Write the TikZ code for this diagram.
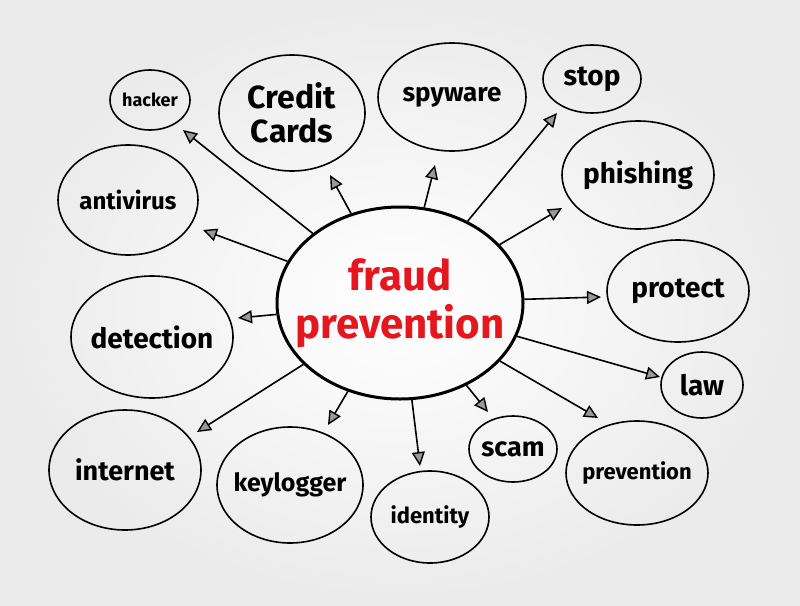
\documentclass[tikz,border=0pt]{standalone}
\usepackage{fontspec}
\setmainfont{Fira Sans}
\usetikzlibrary{shapes.geometric,arrows.meta}
\definecolor{fraudred}{RGB}{228,22,30}
\newcommand{\bubfont}[2]{\fontsize{#1}{#2}\selectfont\bfseries}
\begin{document}
\begin{tikzpicture}[x=1pt,y=-1pt,
  bubble/.style={ellipse,draw,line width=1.6pt,inner sep=0pt},
  hub/.style={ellipse,draw,line width=3pt,inner sep=0pt},
  word/.style={align=center,inner sep=0pt},
  arr/.style={line width=1.6pt,-{Triangle[length=14pt,width=13pt,line width=1.4pt,fill=black!40]}}]
\shade[inner color=white,outer color=black!8] (0,0) rectangle (800,605);
\useasboundingbox (0,0) rectangle (800,605);
% centre
\node[hub,minimum width=246pt,minimum height=192pt,
  label={[word,text=fraudred,font=\bubfont{42}{48}]center:fraud\\prevention}] (hub) at (400,303) {};
% outer bubbles
\node[bubble,minimum width=80pt,minimum height=60pt,label={[word,font=\bubfont{18}{20}]center:hacker}] (hacker) at (150,100) {};
\node[bubble,minimum width=146pt,minimum height=116pt,label={[word,font=\bubfont{32}{34}]center:Credit\\Cards}] (credit) at (292,113) {};
\node[bubble,minimum width=148pt,minimum height=108pt,label={[word,font=\bubfont{26}{28}]center:spyware}] (spyware) at (452,97) {};
\node[bubble,minimum width=98pt,minimum height=68pt,label={[word,font=\bubfont{28}{30}]center:stop}] (stop) at (592,79) {};
\node[bubble,minimum width=152pt,minimum height=108pt,label={[word,font=\bubfont{28}{30}]center:phishing}] (phishing) at (638,175) {};
\node[bubble,minimum width=140pt,minimum height=110pt,label={[word,font=\bubfont{24}{26}]center:antivirus}] (antivirus) at (128,200) {};
\node[bubble,minimum width=142pt,minimum height=102pt,label={[word,font=\bubfont{28}{30}]center:protect}] (protect) at (678,291) {};
\node[bubble,minimum width=162pt,minimum height=122pt,label={[word,font=\bubfont{28}{30}]center:detection}] (detection) at (152,337) {};
\node[bubble,minimum width=82pt,minimum height=66pt,label={[word,font=\bubfont{28}{30}]center:law}] (law) at (702,385) {};
\node[bubble,minimum width=152pt,minimum height=120pt,label={[word,font=\bubfont{27}{29}]center:internet}] (internet) at (125,470) {};
\node[bubble,minimum width=146pt,minimum height=116pt,label={[word,font=\bubfont{25}{27}]center:keylogger}] (keylogger) at (290,485) {};
\node[bubble,minimum width=118pt,minimum height=92pt,label={[word,font=\bubfont{22}{24}]center:identity}] (identity) at (430,517) {};
\node[bubble,minimum width=88pt,minimum height=66pt,label={[word,font=\bubfont{27}{29}]center:scam}] (scam) at (513,449) {};
\node[bubble,minimum width=142pt,minimum height=104pt,label={[word,font=\bubfont{22}{24}]center:prevention}] (prevention) at (637,473) {};
% arrows out of the hub
\foreach \t/\x/\y in {hacker/183/130, credit/330/175, spyware/435/165, stop/557/113,
    phishing/562/208, antivirus/203/230, protect/601/297, detection/238/318,
    law/660/377, internet/197/432, keylogger/328/425, identity/420/466,
    scam/488/412, prevention/598/418}
  {\coordinate (t-\t) at (\x,\y);
   \draw[arr] (hub) -- (t-\t);}
\end{tikzpicture}
\end{document}
